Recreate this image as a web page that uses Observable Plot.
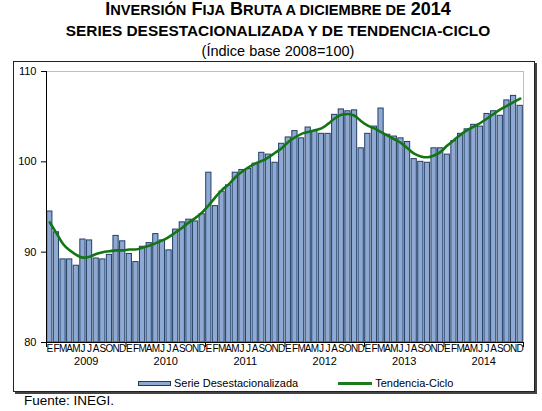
<!DOCTYPE html>
<html>
<head>
<meta charset="utf-8">
<script src="https://cdn.jsdelivr.net/npm/d3@7"></script>
<script src="https://cdn.jsdelivr.net/npm/@observablehq/plot@0.6"></script>
<style>
  body { margin: 0; background: #fff; font-family: "Liberation Sans", Arial, sans-serif; color: #000; }
  .t { position: absolute; left: 0; width: 556px; text-align: center; white-space: nowrap; }
  #t1 { top: 0px; font: bold 18px/19px "Liberation Sans", Arial, sans-serif; }
  #t1 small { font-size: 14.6px; }
  #t2 { top: 22px; font: bold 15.4px/17px "Liberation Sans", Arial, sans-serif; }
  #t3 { top: 43px; font: 14.5px/17px "Liberation Sans", Arial, sans-serif; }
  #box { position: absolute; left: 13px; top: 61px; width: 522px; height: 331px; box-sizing: border-box;
         border: 1px solid #222; box-shadow: 2px 2px 0 #444; }
  #chart { position: absolute; left: 0; top: 0; }
  #legend { position: absolute; top: 314px; left: 124px; font-size: 11px; white-space: nowrap; }
  #legend span { vertical-align: middle; }
  .sw { display: inline-block; width: 31px; height: 3px; background: #8eaad4; border: 1px solid #203a5c; margin-right: 3px; }
  .ln { display: inline-block; width: 34px; height: 3px; background: #1b7a1b; margin-left: 40px; margin-right: 3px; }
  #src { position: absolute; left: 24px; top: 393px; font-size: 13.5px; }
</style>
</head>
<body>
<div class="t" id="t1">I<small>NVERSIÓN</small> F<small>IJA</small> B<small>RUTA A DICIEMBRE DE</small> 2014</div>
<div class="t" id="t2">SERIES DESESTACIONALIZADA Y DE TENDENCIA-CICLO</div>
<div class="t" id="t3">(Índice base 2008=100)</div>
<div id="box">
  <div id="chart"></div>
  <div id="legend"><span class="sw"></span><span>Serie Desestacionalizada</span><span class="ln"></span><span>Tendencia-Ciclo</span></div>
</div>
<div id="src">Fuente: INEGI.</div>
<script>
// monthly index values, Jan 2009 - Dec 2014
const years = [2009, 2010, 2011, 2012, 2013, 2014];
const months = ["E", "F", "M", "A", "M", "J", "J", "A", "S", "O", "N", "D"];
const yTicks = [80, 90, 100, 110];

const serie = [
  94.5, 92.2, 89.2, 89.2, 88.5, 91.4, 91.3, 89.3, 89.2, 89.7, 91.8, 91.2,
  89.8, 88.9, 90.6, 91.0, 92.0, 91.3, 90.2, 92.5, 93.3, 93.6, 93.4, 94.2,
  98.8, 95.1, 96.7, 97.4, 98.8, 99.1, 99.2, 99.8, 101.0, 100.8, 99.9, 102.0,
  102.7, 103.4, 102.6, 103.8, 103.4, 103.1, 103.1, 105.2, 105.8, 105.6, 105.7, 101.5,
  103.1, 103.9, 105.9, 103.0, 102.8, 102.6, 102.2, 100.3, 100.0, 99.9, 101.5, 101.5,
  100.8, 102.3, 103.1, 103.6, 104.1, 103.9, 105.3, 105.6, 105.1, 106.8, 107.3, 106.2
];

const tendencia = [
  93.3, 92.1, 90.9, 90.2, 89.7, 89.4, 89.5, 89.8, 90.0, 90.1, 90.2, 90.2,
  90.3, 90.3, 90.5, 90.7, 91.0, 91.3, 91.7, 92.2, 92.7, 93.3, 93.8, 94.4,
  95.2, 96.1, 96.9, 97.5, 98.3, 98.9, 99.4, 99.8, 100.1, 100.5, 101.0, 101.5,
  102.2, 102.7, 103.1, 103.3, 103.5, 103.7, 104.2, 104.8, 105.2, 105.3, 105.1, 104.5,
  104.0, 103.7, 103.3, 102.9, 102.5, 102.1, 101.5, 100.9, 100.6, 100.5, 100.7, 101.1,
  101.8, 102.4, 103.0, 103.5, 103.9, 104.3, 104.8, 105.3, 105.8, 106.2, 106.6, 107.0
];

const rows = serie.map((v, i) => ({ i, month: months[i % 12], serie: v, trend: tendencia[i] }));
const n = rows.length;

const fig = Plot.plot({
  width: 520,
  height: 312,
  marginLeft: 32,
  marginRight: 11,
  marginTop: 9,
  marginBottom: 32,
  style: { fontFamily: "'Liberation Sans', Arial, sans-serif", fontSize: "11px", color: "#000", background: "transparent", overflow: "visible" },
  x: { domain: [0, n], axis: null },
  y: { domain: [80, 110], axis: null },
  marks: [
    Plot.frame({ stroke: "#bdbdbd" }),
    Plot.rectY(rows, { x1: "i", x2: (d) => d.i + 1, y1: 80, y2: "serie", insetLeft: 0.7, insetRight: 0.7,
      fill: "#8eaad4", stroke: "#233f63", strokeWidth: 1 }),
    Plot.line(rows, { x: (d) => d.i + 0.5, y: "trend", stroke: "#137513", strokeWidth: 2.6, curve: "monotone-x" }),
    Plot.ruleX([0], { stroke: "#000" }),
    Plot.ruleY([80], { stroke: "#000" }),
    Plot.axisY(yTicks, { tickSize: 5, tickPadding: 5, fontSize: 11, stroke: "#000", label: null }),
    // month initials under each bar
    Plot.axisX(rows.map((d) => d.i + 0.5), { tickSize: 0, tickPadding: 2, fontSize: 10, label: null,
      tickFormat: (d) => months[Math.floor(d) % 12] }),
    // year boundaries
    Plot.axisX(d3.range(0, n + 1, 12), { tickSize: 5, tickFormat: () => "", stroke: "#000", label: null }),
    // year labels centered on each year
    Plot.axisX(years.map((y, k) => k * 12 + 6), { tickSize: 0, tickPadding: 15, fontSize: 11, label: null,
      tickFormat: (d) => String(years[(d - 6) / 12]) })
  ]
});
document.getElementById("chart").appendChild(fig);
</script>
</body>
</html>
